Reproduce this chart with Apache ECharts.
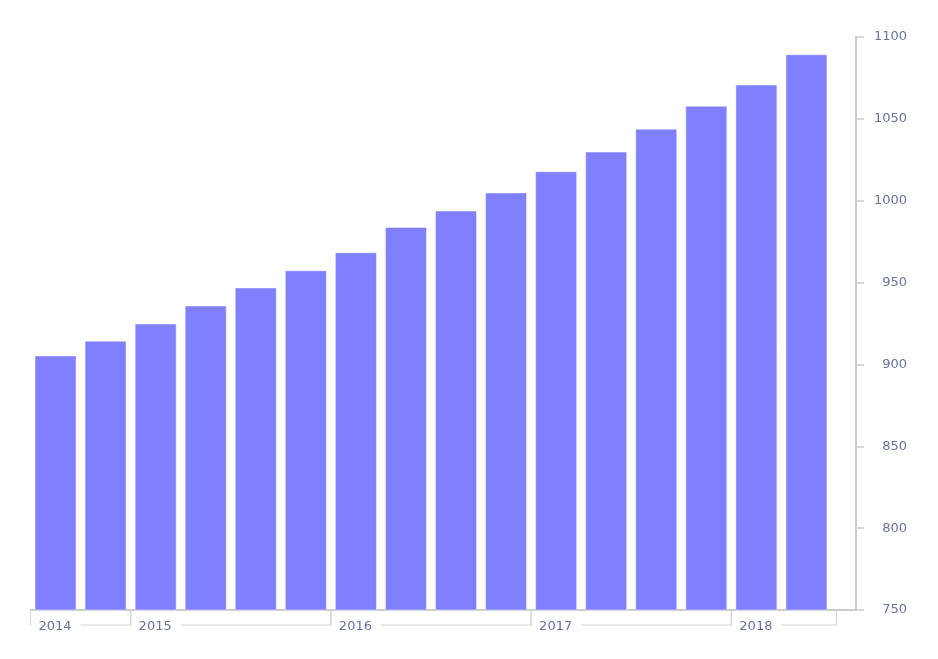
<!DOCTYPE html>
<html>
<head>
<meta charset="utf-8">
<script src="https://cdn.jsdelivr.net/npm/echarts@6/dist/echarts.min.js"></script>
<style>
  html, body { margin: 0; padding: 0; background: #fff; }
  #chart { width: 938px; height: 659px; }
</style>
</head>
<body>
<div id="chart"></div>
<script>
// quarterly values, one bar per quarter slot
var values = [905.5, 914.5, 925, 936, 947, 957.5, 968.5, 984, 994, 1005, 1018, 1030, 1044, 1058, 1071, 1089.5];
// year groups along the bottom: label, first slot, end slot
var yearLabels = ['2014', '2015', '2016', '2017', '2018'];
var yearStarts = [0, 2, 6, 10, 14];
var yearEnds = [2, 6, 10, 14, 16.1];
var yTicks = { min: 750, max: 1100, interval: 50 };

var textColor = '#66739f';
var axisColor = '#cccccc';
var fontFamily = '"DejaVu Sans", sans-serif';

var chart = echarts.init(document.getElementById('chart'));

var barData = values.map(function (v, i) { return [i + 0.5, v]; });
var yearData = yearLabels.map(function (l, i) { return [yearStarts[i], yearEnds[i]]; });

function renderYear(params, api) {
    var p0 = api.coord([api.value(0), yTicks.min]);
    var p1 = api.coord([api.value(1), yTicks.min]);
    var top = p0[1] + 1;
    var low = p0[1] + 15;
    var lineStyle = { stroke: '#d6d6d6', lineWidth: 1.2 };
    return {
        type: 'group',
        children: [
            { type: 'line', shape: { x1: p0[0], y1: low, x2: p1[0], y2: low }, style: lineStyle },
            {
                type: 'text',
                style: {
                    text: yearLabels[params.dataIndex],
                    x: p0[0] + 1, y: low + 1.5,
                    verticalAlign: 'middle',
                    fill: textColor,
                    font: '13px ' + fontFamily,
                    backgroundColor: '#fff',
                    padding: [0, 9, 0, 7]
                }
            },
            { type: 'line', shape: { x1: p0[0], y1: top, x2: p0[0], y2: low }, style: lineStyle },
            { type: 'line', shape: { x1: p1[0], y1: top, x2: p1[0], y2: low }, style: lineStyle }
        ]
    };
}

chart.setOption({
    animation: false,
    grid: { left: 30.5, right: 82, top: 37, bottom: 49 },
    xAxis: {
        type: 'value',
        min: 0,
        max: 16.49,
        axisLine: { show: true, onZero: false, lineStyle: { color: axisColor, width: 2 } },
        axisTick: { show: false },
        axisLabel: { show: false },
        splitLine: { show: false }
    },
    yAxis: {
        type: 'value',
        position: 'right',
        min: yTicks.min,
        max: yTicks.max,
        interval: yTicks.interval,
        axisLine: { show: true, onZero: false, lineStyle: { color: axisColor, width: 2 } },
        axisTick: { show: true, length: 8, lineStyle: { color: axisColor, width: 1.5 } },
        axisLabel: {
            color: textColor,
            fontSize: 13,
            fontFamily: fontFamily,
            align: 'right',
            margin: 51,
            formatter: function (v) { return String(v); }
        },
        splitLine: { show: false }
    },
    series: [
        {
            type: 'bar',
            data: barData,
            barWidth: 42,
            itemStyle: {
                color: '#8080ff',
                borderColor: 'rgba(255,255,255,0.45)',
                borderWidth: 1
            }
        },
        {
            type: 'custom',
            data: yearData,
            encode: { x: [0, 1] },
            clip: false,
            silent: true,
            renderItem: renderYear
        }
    ]
});
</script>
</body>
</html>
